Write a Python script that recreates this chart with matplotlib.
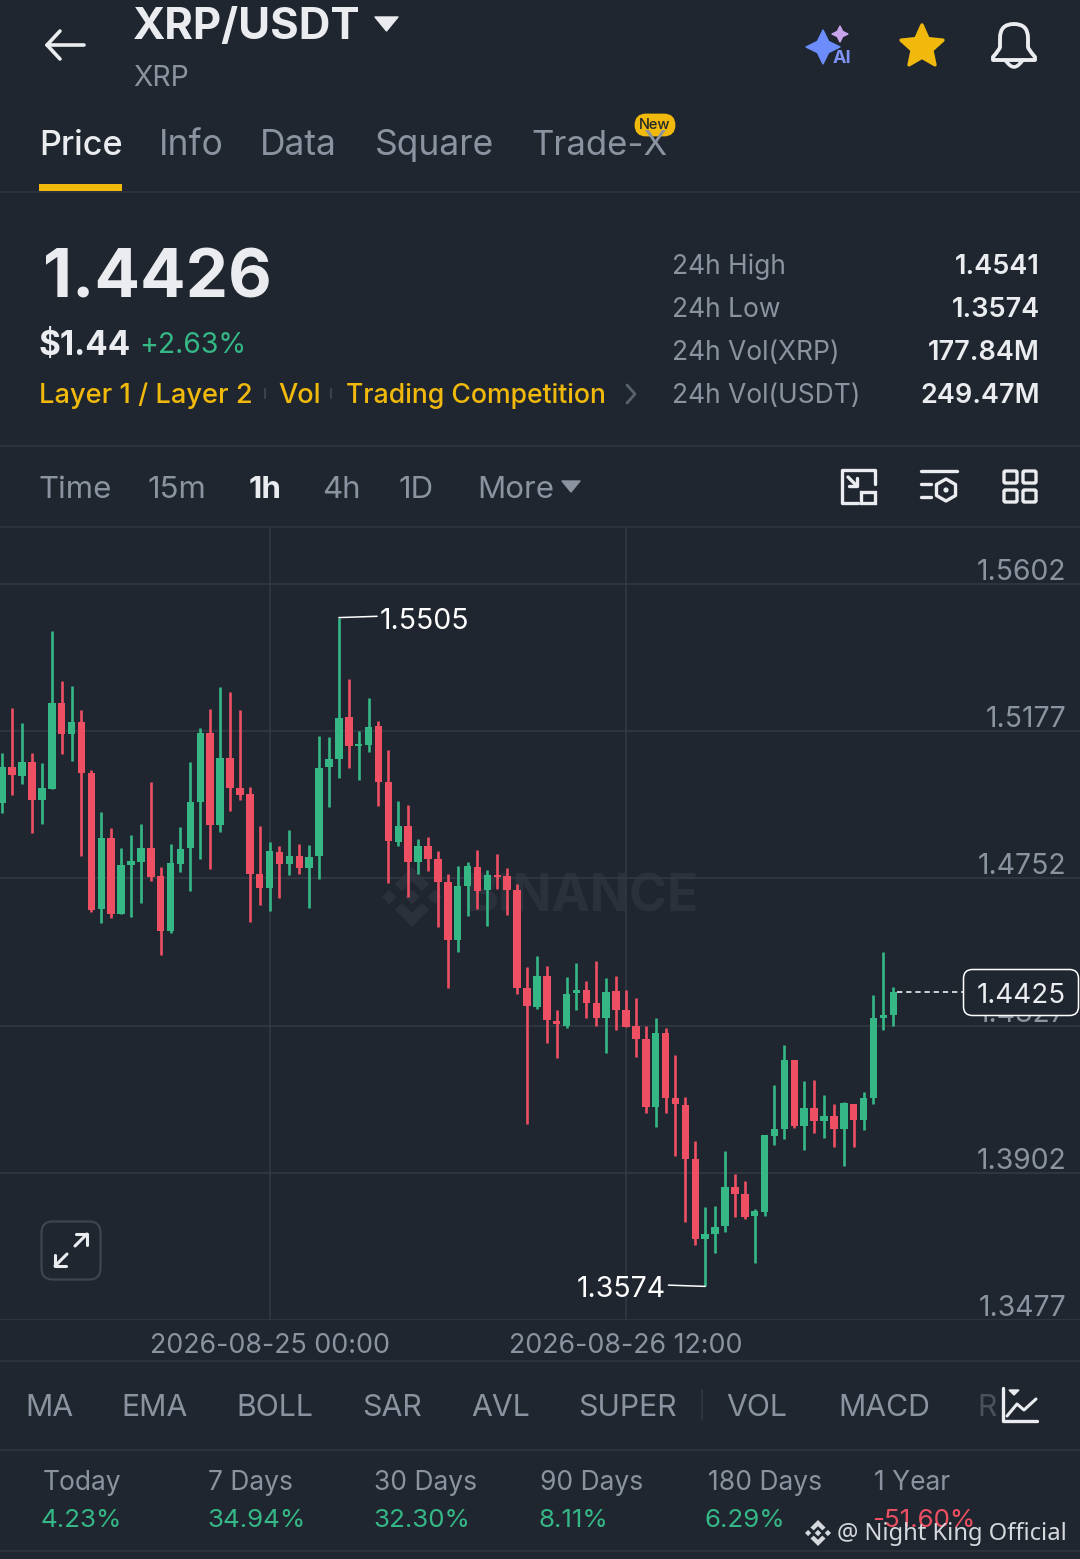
import numpy as np
import matplotlib
matplotlib.use("Agg")
import matplotlib.pyplot as plt
from matplotlib.patches import FancyBboxPatch, Polygon, PathPatch, Rectangle, Circle
from matplotlib.path import Path
from matplotlib.transforms import ScaledTranslation

# ---------- data ----------
opens = [1.4969,1.5073,1.5047,1.5088,1.4978,1.5010,1.5258,1.5169,1.5203,1.5056,
         1.4664,1.4868,1.4650,1.4791,1.4800,1.4840,1.4759,1.4600,1.4794,1.4840,
         1.4972,1.5172,1.4906,1.5100,1.5013,1.4995,1.4765,1.4725,1.4828,1.4794,
         1.4816,1.4782,1.4816,1.5073,1.5097,1.5218,1.5134,1.5137,1.5192,1.5030,
         1.4857,1.4903,1.4800,1.4846,1.4808,1.4742,1.4574,1.4730,1.4785,1.4719,
         1.4762,1.4759,1.4719,1.4436,1.4381,1.4470,1.4340,1.4326,1.4421,1.4430,
         1.4392,1.4349,1.4427,1.4372,1.4326,1.4289,1.4092,1.4306,1.4118,1.4098,
         1.3942,1.3711,1.3726,1.3749,1.3861,1.3841,1.3778,1.3789,1.4008,1.4028,
         1.4228,1.4037,1.4089,1.4051,1.4066,1.4028,1.4101,1.4054,1.4118,1.4349,1.4358]
closes = [1.5073,1.5050,1.5088,1.4978,1.5013,1.5258,1.5169,1.5203,1.5056,1.4661,
          1.4868,1.4650,1.4791,1.4803,1.4840,1.4756,1.4600,1.4797,1.4837,1.4972,
          1.5172,1.4906,1.5100,1.5013,1.4992,1.4765,1.4725,1.4831,1.4794,1.4816,
          1.4782,1.4813,1.5070,1.5097,1.5215,1.5134,1.5140,1.5189,1.5030,1.4860,
          1.4903,1.4800,1.4846,1.4808,1.4742,1.4574,1.4730,1.4788,1.4716,1.4762,
          1.4756,1.4719,1.4436,1.4384,1.4470,1.4343,1.4332,1.4418,1.4430,1.4392,
          1.4349,1.4424,1.4372,1.4323,1.4289,1.4092,1.4306,1.4118,1.4101,1.3942,
          1.3711,1.3726,1.3746,1.3861,1.3841,1.3775,1.3792,1.4011,1.4028,1.4228,
          1.4037,1.4089,1.4051,1.4066,1.4028,1.4103,1.4054,1.4118,1.4349,1.4358,1.4425]
highs = [1.5114,1.5244,1.5201,1.5114,1.5085,1.5466,1.5322,1.5308,1.5238,1.5065,
         1.4943,1.4897,1.4840,1.4877,1.4909,1.5030,1.4785,1.4851,1.4900,1.5088,
         1.5186,1.5241,1.5305,1.5290,1.5238,1.5016,1.4903,1.4857,1.4846,1.4892,
         1.4851,1.4848,1.5163,1.5160,1.5505,1.5328,1.5178,1.5273,1.5206,1.5123,
         1.4975,1.4964,1.4866,1.4871,1.4831,1.4765,1.4788,1.4800,1.4834,1.4776,
         1.4822,1.4782,1.4736,1.4496,1.4528,1.4499,1.4372,1.4467,1.4508,1.4456,
         1.4514,1.4464,1.4470,1.4430,1.4407,1.4326,1.4349,1.4320,1.4242,1.4121,
         1.3994,1.3804,1.3807,1.3965,1.3899,1.3879,1.3798,1.4011,1.4155,1.4271,
         1.4228,1.4167,1.4170,1.4126,1.4101,1.4106,1.4101,1.4135,1.4415,1.4540,1.4438]
lows = [1.4940,1.4992,1.5024,1.4883,1.4909,1.5010,1.5111,1.5091,1.4816,1.4655,
        1.4624,1.4638,1.4650,1.4641,1.4681,1.4745,1.4531,1.4594,1.4771,1.4716,
        1.4808,1.4779,1.4886,1.4946,1.4978,1.4627,1.4676,1.4658,1.4695,1.4762,
        1.4765,1.4667,1.4750,1.4958,1.5042,1.5070,1.5036,1.5117,1.4961,1.4739,
        1.4846,1.4698,1.4765,1.4773,1.4612,1.4436,1.4540,1.4644,1.4664,1.4615,
        1.4722,1.4647,1.4418,1.4043,1.4375,1.4277,1.4234,1.4320,1.4372,1.4349,
        1.4326,1.4248,1.4314,1.4323,1.4237,1.4075,1.4034,1.4075,1.3950,1.3760,
        1.3694,1.3574,1.3670,1.3732,1.3775,1.3769,1.3642,1.3778,1.3982,1.3999,
        1.4031,1.3968,1.4017,1.4002,1.3976,1.3922,1.3976,1.4025,1.4101,1.4314,1.4326]
price_ticks = [1.5602, 1.5177, 1.4752, 1.4327, 1.3902, 1.3477]
time_positions = [27, 63]
time_labels = ["2026-08-25 00:00", "2026-08-26 12:00"]
periods = ["Today", "7 Days", "30 Days", "90 Days", "180 Days", "1 Year"]
period_changes = ["4.23%", "34.94%", "32.30%", "8.11%", "6.29%", "-51.60%"]
indicators = ["MA", "EMA", "BOLL", "SAR", "AVL", "SUPER", "VOL", "MACD"]
intervals = ["Time", "15m", "1h", "4h", "1D", "More"]
tabs = ["Price", "Info", "Data", "Square", "Trade-X"]
stat_names = ["24h High", "24h Low", "24h Vol(XRP)", "24h Vol(USDT)"]
stat_values = ["1.4541", "1.3574", "177.84M", "249.47M"]

# ---------- palette ----------
BG = "#1F2630"
GRID = "#333A44"
SEP = "#2E353F"
WHITE = "#EAECEF"
GREY = "#8B93A0"
GREEN = "#35B786"
RED = "#EE4F63"
YELLOW = "#F0B90B"

plt.rcParams["font.family"] = ["Inter", "Open Sans", "DejaVu Sans"]
W, H = 1080, 1559
fig = plt.figure(figsize=(W / 100, H / 100), dpi=100, facecolor=BG)


def ui_axes(z):
    a = fig.add_axes([0, 0, 1, 1], zorder=z)
    a.set_xlim(0, W)
    a.set_ylim(H, 0)
    a.axis("off")
    a.patch.set_alpha(0)
    return a


back = ui_axes(0)
front = ui_axes(5)


def T(x, y, s, size=20, color=WHITE, weight="normal", ha="left", ax=front, **kw):
    dx = -1 if ha == "left" else 0
    ax.text(x + dx, y + 2.5, s, fontsize=size, color=color, fontweight=weight, ha=ha, va="center", **kw)


def L(xs, ys, color=WHITE, lw=2, ax=front, **kw):
    ax.plot(xs, ys, color=color, lw=lw, solid_capstyle=kw.pop("cap", "round"),
            solid_joinstyle="round", **kw)


def star4(cx, cy, r, color, ax=front):
    k = 0.33 * r
    ax.add_patch(Polygon([(cx, cy - r), (cx + k, cy - k), (cx + r, cy), (cx + k, cy + k),
                          (cx, cy + r), (cx - k, cy + k), (cx - r, cy), (cx - k, cy - k)],
                         closed=True, fc=color, ec=color, lw=1, joinstyle="round"))


def logo(cx, cy, s, color, ax):
    def dia(x, y, r):
        ax.add_patch(Polygon([(x, y - r), (x + r, y), (x, y + r), (x - r, y)], closed=True,
                             fc=color, ec="none"))
    dia(cx, cy, s * 0.25)
    dia(cx - s * 0.76, cy, s * 0.24)
    dia(cx + s * 0.76, cy, s * 0.24)
    for sign in (-1, 1):
        ax.add_patch(Polygon([(cx, cy + sign * s), (cx + s * 0.58, cy + sign * s * 0.42),
                              (cx + s * 0.33, cy + sign * s * 0.2), (cx, cy + sign * s * 0.52),
                              (cx - s * 0.33, cy + sign * s * 0.2), (cx - s * 0.58, cy + sign * s * 0.42)],
                             closed=True, fc=color, ec="none"))


# ---------- separators ----------
for y in (192, 446, 527, 1361, 1450, 1551):
    L([0, W], [y, y], SEP, 1.2, back, cap="butt")

# ---------- header ----------
L([47, 84], [45, 45], WHITE, 2.6)
L([60, 47, 60], [31, 45, 59], WHITE, 2.6)
T(134, 25, "XRP/USDT", 31.5, WHITE, "bold")
front.add_patch(Polygon([(375, 17), (398, 17), (386.5, 31)], closed=True, fc=WHITE, ec=WHITE, lw=1, joinstyle="round"))
T(134, 76, "XRP", 20.5, GREY)
star4(823, 47, 17, "#6C8DFB")
star4(840, 34, 8, "#C9A5EE")
T(842, 56, "AI", 13, "#7E93F5", "bold", ha="center")
sx, sy, R = 922, 47, 22
pts = []
for i in range(10):
    r = R if i % 2 == 0 else R * 0.47
    a = -np.pi / 2 + i * np.pi / 5
    pts.append((sx + r * np.cos(a), sy + r * np.sin(a)))
front.add_patch(Polygon(pts, closed=True, fc=YELLOW, ec=YELLOW, lw=2.5, joinstyle="round"))
bell = Path([(1000, 38), (1000, 24), (1014, 24), (1028, 24), (1028, 38), (1028, 47), (1028, 49), (1035, 57),
             (1035, 60), (993, 60), (993, 57), (1000, 49), (1000, 47), (1000, 38)],
            [Path.MOVETO, Path.CURVE3, Path.CURVE3, Path.CURVE3, Path.CURVE3, Path.LINETO, Path.CURVE3, Path.CURVE3,
             Path.LINETO, Path.LINETO, Path.LINETO, Path.CURVE3, Path.CURVE3, Path.LINETO])
front.add_patch(PathPatch(bell, fc="none", ec=WHITE, lw=2.8, joinstyle="round"))
L(np.linspace(1005, 1023, 12), 60 + 7 * np.sin(np.linspace(0, np.pi, 12)), WHITE, 2.6)

# ---------- tabs ----------
for x, s, c, w, z in zip((40, 160, 261, 376, 532), tabs, (WHITE, GREY, GREY, GREY, GREY),
                         ("medium", "normal", "normal", "normal", "normal"),
                         (24.6, 25.5, 25.5, 25.5, 25)):
    T(x, 143, s, z, c, w)
front.add_patch(Rectangle((39, 184), 83, 7, fc=YELLOW, ec="none"))
front.add_patch(FancyBboxPatch((636, 115), 38, 20, boxstyle="round,pad=0,rounding_size=10",
                               fc=YELLOW, ec=YELLOW, lw=2))
T(654.5, 122.5, "New", 10.5, "#1F2630", "medium", ha="center")

# ---------- price block ----------
T(44, 277, "1.4426", 48.5, WHITE, "bold")
T(39, 343, "$1.44", 24, WHITE, "bold")
T(140, 343, "+2.63%", 20.4, GREEN)
T(40, 393, "Layer 1 / Layer 2", 19.6, YELLOW, "medium")
T(279, 393, "Vol", 19.6, YELLOW, "medium")
T(347, 393, "Trading Competition", 19.2, YELLOW, "medium")
L([265, 265], [389, 398], "#3B424C", 1.5)
L([331, 331], [389, 398], "#3B424C", 1.5)
L([627, 635, 627], [385, 394, 403], "#59616D", 2)
for y, a, b in zip((264, 307, 350, 393), stat_names, stat_values):
    T(673, y, a, 19, GREY)
    T(1040, y, b, 19.5, WHITE, "semibold", ha="right")

# ---------- interval row ----------
for x, s in zip((40, 149, 250, 323, 400, 478), intervals):
    active = s == "1h"
    T(x, 487, s, 22.5, WHITE if active else GREY, "bold" if active else "normal")
front.add_patch(Polygon([(562, 481), (580, 481), (571, 492)], closed=True, fc=GREY, ec=GREY, lw=1, joinstyle="round"))
L([875, 875, 842, 842, 858], [484, 470, 470, 503, 503], WHITE, 2.4)
front.add_patch(Rectangle((861, 492), 14, 11, fc="none", ec=WHITE, lw=2.4))
L([848, 857], [477, 486], WHITE, 2.4)
L([849, 857, 857], [486, 486, 478], WHITE, 2.4)
L([921, 957], [471, 471], WHITE, 2.4)
L([921, 931], [484, 484], WHITE, 2.4)
L([921, 931], [497, 497], WHITE, 2.4)
hexa = [(946 + 11 * np.sin(a), 490 - 11 * np.cos(a)) for a in np.arange(6) * np.pi / 3]
front.add_patch(Polygon(hexa, closed=True, fc="none", ec=WHITE, lw=2.4, joinstyle="round"))
front.add_patch(Circle((946, 490), 2.6, fc=WHITE, ec="none"))
for x in (1004, 1023):
    for y in (471, 490):
        front.add_patch(FancyBboxPatch((x, y), 13, 12, boxstyle="round,pad=0,rounding_size=1.5",
                                       fc="none", ec=WHITE, lw=2.4))

# ---------- chart ----------
logo(412, 897, 30, "#2A313B", back)
T(582, 895, "BINANCE", 37, "#2A313B", "bold", ha="center", ax=back)

top_px, bot_px = 528, 1320
ax = fig.add_axes([0, 1 - bot_px / H, 1, (bot_px - top_px) / H], zorder=2)
ax.patch.set_alpha(0)
for s in ax.spines.values():
    s.set_visible(False)
idx = np.arange(len(opens))
o, c, h, l = map(np.array, (opens, closes, highs, lows))
colors = [GREEN if cc >= oo else RED for oo, cc in zip(o, c)]
ax.vlines(idx, l, h, colors=colors, lw=1.9, zorder=3)
ax.bar(idx, np.abs(c - o), bottom=np.minimum(o, c), width=0.76, color=colors, zorder=4, linewidth=0)
ax.set_xlim(-0.232, 108.86)
ax.set_ylim(1.3477, 1.3477 + (bot_px - top_px) * 0.00028872)
ax.set_xticks(time_positions)
ax.set_xticklabels(time_labels)
ax.set_yticks(price_ticks)
ax.set_yticklabels([f"{p:.4f}" for p in price_ticks])
ax.grid(True, color=GRID, lw=1.1, zorder=0)
ax.set_axisbelow(True)
ax.tick_params(axis="x", length=0, pad=9.5, labelsize=19.3, labelcolor=GREY)
ax.tick_params(axis="y", length=0, left=False, right=False, labelleft=False, labelright=True,
               pad=-10, labelsize=20.4, labelcolor=GREY)
shift = ScaledTranslation(0, -2 / 100, fig.dpi_scale_trans)
for t in ax.yaxis.get_major_ticks():
    t.label2.set_ha("right")
    t.label2.set_va("bottom")
    t.label2.set_clip_on(False)
    t.label2.set_transform(t.label2.get_transform() + shift)

hi = int(np.argmax(h))
lo = int(np.argmin(l))
ax.annotate(f"{h[hi]:.4f}", xy=(hi, h[hi]), xytext=(29.5, -2.5), textcoords="offset points", va="center", ha="left",
            fontsize=20.5, color="white", zorder=6,
            arrowprops=dict(arrowstyle="-", color="white", lw=1.1, shrinkA=0, shrinkB=0, relpos=(0, 0.68)))
ax.annotate(f"{l[lo]:.4f}", xy=(lo, l[lo]), xytext=(-28.5, -2.5), textcoords="offset points", va="center", ha="right",
            fontsize=20.5, color="white", zorder=6,
            arrowprops=dict(arrowstyle="-", color="white", lw=1.1, shrinkA=0, shrinkB=0, relpos=(1, 0.68)))
ax.plot([idx[-1] + 0.4, 97.1], [c[-1], c[-1]], color="white", lw=1.1, ls=(0, (3.5, 2.5)), zorder=5)

# current price tag
front.add_patch(FancyBboxPatch((963.5, 969.5), 115, 46, boxstyle="round,pad=0,rounding_size=9",
                               fc=BG, ec="white", lw=1.1))
T(1066, 993, f"{c[-1]:.4f}", 20, WHITE, ha="right")

# expand button
front.add_patch(FancyBboxPatch((41.5, 1221.5), 59, 58, boxstyle="round,pad=0,rounding_size=11",
                               fc=BG, ec="#3E454F", lw=1.6))
L([55, 67], [1266, 1254], WHITE, 2.2)
L([55, 55, 66], [1255, 1266, 1266], WHITE, 2.2)
L([75, 87], [1246, 1234], WHITE, 2.2)
L([76, 87, 87], [1234, 1234, 1245], WHITE, 2.2)

# ---------- indicators ----------
for x, s in zip((26, 122, 237, 363, 472, 579, 727, 839), indicators):
    T(x, 1406, s, 21.8, GREY)
L([702, 702], [1390, 1420], SEP, 1.4)
T(978, 1406, "R", 21.8, "#4A515C")
L([1003, 1003, 1037], [1388, 1421, 1421], WHITE, 2.4)
L([1007, 1017, 1024, 1036], [1416, 1404, 1410, 1399], WHITE, 2.2)
front.add_patch(Polygon([(1009, 1390), (1019, 1390), (1014, 1395)], closed=True, fc=WHITE, ec=WHITE, lw=1))

# ---------- periods ----------
for x0, x1, a, b in zip((44, 209, 375, 541, 709, 875), (42, 208, 374, 540, 706, 873), periods, period_changes):
    T(x0, 1481, a, 19, GREY)
    T(x1, 1518, b, 18.7, RED if b.startswith("-") else GREEN)

# watermark credit
logo(818, 1533, 13, "#D5D8DC", front)
T(838, 1532, "@ Night King Official", 17.1, "#D5D8DC", family=["Noto Sans", "DejaVu Sans"])

fig.savefig("out.png", dpi=100, facecolor=BG)
